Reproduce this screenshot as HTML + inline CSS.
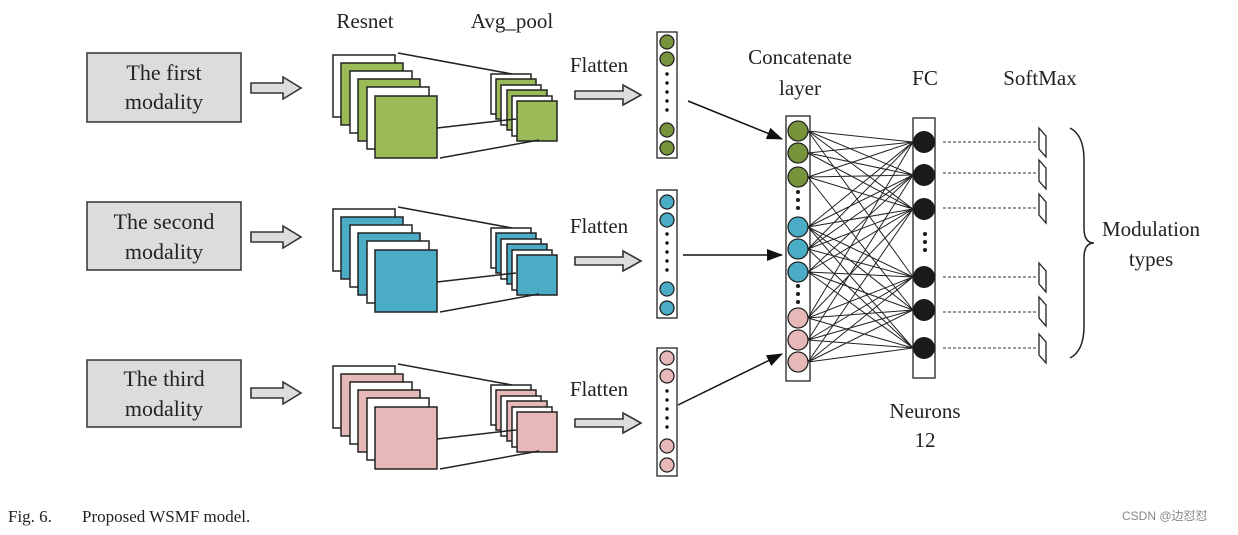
<!DOCTYPE html>
<html><head><meta charset="utf-8"><style>
body{margin:0;background:#fff;width:1238px;height:530px;overflow:hidden}
text{font-family:"Liberation Serif",serif;fill:#222}
</style></head><body>
<svg width="1238" height="530" xmlns="http://www.w3.org/2000/svg">
<defs>
<marker id="ah" markerWidth="16" markerHeight="12" refX="15" refY="6" orient="auto" markerUnits="userSpaceOnUse"><path d="M0,0 L16,6 L0,12 z" fill="#111"/></marker>
<g id="blk"><path d="M0,-5 H32 V-11 L50,0 L32,11 V5 H0 Z" fill="#ddd" stroke="#333" stroke-width="1.6"/></g>
<g id="flat"><path d="M0,-4 H48 V-10 L66,0 L48,10 V4 H0 Z" fill="#ddd" stroke="#333" stroke-width="1.6"/></g>
</defs>

<g stroke="#333" stroke-width="1.5" fill="#dcdcdc">
<rect x="87" y="53" width="154" height="69"/>
<rect x="87" y="202" width="154" height="68"/>
<rect x="87" y="360" width="154" height="67"/>
</g>
<g font-size="22" text-anchor="middle">
<text x="164" y="80">The first</text><text x="164" y="109">modality</text>
<text x="164" y="229">The second</text><text x="164" y="259">modality</text>
<text x="164" y="386">The third</text><text x="164" y="416">modality</text>
</g>
<use href="#blk" x="251" y="88"/><use href="#blk" x="251" y="237"/><use href="#blk" x="251" y="393"/>

<g stroke="#222" stroke-width="1.5">
<g transform="translate(0,0)">
<rect x="333" y="55" width="62" height="62" fill="#fff"/><rect x="341" y="63" width="62" height="62" fill="#9bbb59"/><rect x="350" y="71" width="62" height="62" fill="#fff"/><rect x="358" y="79" width="62" height="62" fill="#9bbb59"/><rect x="367" y="87" width="62" height="62" fill="#fff"/><rect x="375" y="96" width="62" height="62" fill="#9bbb59"/>
<rect x="491" y="74" width="40" height="40" fill="#fff"/><rect x="496" y="79" width="40" height="40" fill="#9bbb59"/><rect x="501" y="85" width="40" height="40" fill="#fff"/><rect x="507" y="90" width="40" height="40" fill="#9bbb59"/><rect x="512" y="96" width="40" height="40" fill="#fff"/><rect x="517" y="101" width="40" height="40" fill="#9bbb59"/>
<line x1="398" y1="53" x2="512" y2="74"/><line x1="437" y1="128" x2="516" y2="119"/><line x1="440" y1="158" x2="539" y2="140"/>
</g>
<g transform="translate(0,154)">
<rect x="333" y="55" width="62" height="62" fill="#fff"/><rect x="341" y="63" width="62" height="62" fill="#4bacc6"/><rect x="350" y="71" width="62" height="62" fill="#fff"/><rect x="358" y="79" width="62" height="62" fill="#4bacc6"/><rect x="367" y="87" width="62" height="62" fill="#fff"/><rect x="375" y="96" width="62" height="62" fill="#4bacc6"/>
<rect x="491" y="74" width="40" height="40" fill="#fff"/><rect x="496" y="79" width="40" height="40" fill="#4bacc6"/><rect x="501" y="85" width="40" height="40" fill="#fff"/><rect x="507" y="90" width="40" height="40" fill="#4bacc6"/><rect x="512" y="96" width="40" height="40" fill="#fff"/><rect x="517" y="101" width="40" height="40" fill="#4bacc6"/>
<line x1="398" y1="53" x2="512" y2="74"/><line x1="437" y1="128" x2="516" y2="119"/><line x1="440" y1="158" x2="539" y2="140"/>
</g>
<g transform="translate(0,311)">
<rect x="333" y="55" width="62" height="62" fill="#fff"/><rect x="341" y="63" width="62" height="62" fill="#e6b9b8"/><rect x="350" y="71" width="62" height="62" fill="#fff"/><rect x="358" y="79" width="62" height="62" fill="#e6b9b8"/><rect x="367" y="87" width="62" height="62" fill="#fff"/><rect x="375" y="96" width="62" height="62" fill="#e6b9b8"/>
<rect x="491" y="74" width="40" height="40" fill="#fff"/><rect x="496" y="79" width="40" height="40" fill="#e6b9b8"/><rect x="501" y="85" width="40" height="40" fill="#fff"/><rect x="507" y="90" width="40" height="40" fill="#e6b9b8"/><rect x="512" y="96" width="40" height="40" fill="#fff"/><rect x="517" y="101" width="40" height="40" fill="#e6b9b8"/>
<line x1="398" y1="53" x2="512" y2="74"/><line x1="437" y1="128" x2="516" y2="119"/><line x1="440" y1="158" x2="539" y2="140"/>
</g>
</g>
<g font-size="21" text-anchor="middle">
<text x="365" y="28">Resnet</text><text x="512" y="28">Avg_pool</text>
<text x="599" y="72">Flatten</text><text x="599" y="233">Flatten</text><text x="599" y="396">Flatten</text>
<text x="800" y="64">Concatenate</text><text x="800" y="95">layer</text>
<text x="925" y="85">FC</text><text x="1040" y="85">SoftMax</text>
<text x="925" y="418">Neurons</text><text x="925" y="447">12</text>
<text x="1151" y="236">Modulation</text><text x="1151" y="266">types</text>
</g>
<use href="#flat" x="575" y="95"/><use href="#flat" x="575" y="261"/><use href="#flat" x="575" y="423"/>

<g stroke="#222" stroke-width="1.3">
<rect x="657" y="32" width="20" height="126" fill="#fff"/>
<circle cx="667" cy="42" r="7" fill="#77933c"/><circle cx="667" cy="59" r="7" fill="#77933c"/><circle cx="667" cy="130" r="7" fill="#77933c"/><circle cx="667" cy="148" r="7" fill="#77933c"/>
<rect x="657" y="190" width="20" height="128" fill="#fff"/>
<circle cx="667" cy="202" r="7" fill="#4bacc6"/><circle cx="667" cy="220" r="7" fill="#4bacc6"/><circle cx="667" cy="289" r="7" fill="#4bacc6"/><circle cx="667" cy="308" r="7" fill="#4bacc6"/>
<rect x="657" y="348" width="20" height="128" fill="#fff"/>
<circle cx="667" cy="358" r="7" fill="#e6b9b8"/><circle cx="667" cy="376" r="7" fill="#e6b9b8"/><circle cx="667" cy="446" r="7" fill="#e6b9b8"/><circle cx="667" cy="465" r="7" fill="#e6b9b8"/>
</g>
<g fill="#111">
<circle cx="667" cy="74" r="1.7"/><circle cx="667" cy="83" r="1.7"/><circle cx="667" cy="92" r="1.7"/><circle cx="667" cy="101" r="1.7"/><circle cx="667" cy="110" r="1.7"/>
<circle cx="667" cy="234" r="1.7"/><circle cx="667" cy="243" r="1.7"/><circle cx="667" cy="252" r="1.7"/><circle cx="667" cy="261" r="1.7"/><circle cx="667" cy="270" r="1.7"/>
<circle cx="667" cy="391" r="1.7"/><circle cx="667" cy="400" r="1.7"/><circle cx="667" cy="409" r="1.7"/><circle cx="667" cy="418" r="1.7"/><circle cx="667" cy="427" r="1.7"/>
</g>
<g stroke="#111" stroke-width="1.5">
<line x1="688" y1="101" x2="782" y2="139" marker-end="url(#ah)"/>
<line x1="683" y1="255" x2="782" y2="255" marker-end="url(#ah)"/>
<line x1="678" y1="405" x2="782" y2="354" marker-end="url(#ah)"/>
</g>

<rect x="786" y="116" width="24" height="265" fill="#fff" stroke="#222" stroke-width="1.3"/>
<rect x="913" y="118" width="22" height="260" fill="#fff" stroke="#222" stroke-width="1.3"/>
<path stroke="#222" stroke-width="1" fill="none" d="
M808 131L913 142M808 131L913 175M808 131L913 209M808 131L913 277
M808 153L913 142M808 153L913 175M808 153L913 209
M808 177L913 142M808 177L913 175M808 177L913 209M808 177L913 310
M808 227L913 142M808 227L913 175M808 227L913 209M808 227L913 277M808 227L913 310M808 227L913 348
M808 249L913 142M808 249L913 175M808 249L913 209M808 249L913 277M808 249L913 348
M808 272L913 175M808 272L913 209M808 272L913 277M808 272L913 310M808 272L913 348
M808 318L913 142M808 318L913 209M808 318L913 277M808 318L913 310M808 318L913 348
M808 340L913 175M808 340L913 277M808 340L913 310M808 340L913 348
M808 362L913 209M808 362L913 277M808 362L913 310M808 362L913 348"/>
<g stroke="#222" stroke-width="1.3">
<circle cx="798" cy="131" r="10" fill="#77933c"/><circle cx="798" cy="153" r="10" fill="#77933c"/><circle cx="798" cy="177" r="10" fill="#77933c"/>
<circle cx="798" cy="227" r="10" fill="#4bacc6"/><circle cx="798" cy="249" r="10" fill="#4bacc6"/><circle cx="798" cy="272" r="10" fill="#4bacc6"/>
<circle cx="798" cy="318" r="10" fill="#e6b9b8"/><circle cx="798" cy="340" r="10" fill="#e6b9b8"/><circle cx="798" cy="362" r="10" fill="#e6b9b8"/>
</g>
<g fill="#1a1a1a">
<circle cx="924" cy="142" r="11"/><circle cx="924" cy="175" r="11"/><circle cx="924" cy="209" r="11"/>
<circle cx="924" cy="277" r="11"/><circle cx="924" cy="310" r="11"/><circle cx="924" cy="348" r="11"/>
<circle cx="798" cy="192" r="2"/><circle cx="798" cy="200" r="2"/><circle cx="798" cy="208" r="2"/>
<circle cx="798" cy="286" r="2"/><circle cx="798" cy="294" r="2"/><circle cx="798" cy="302" r="2"/>
<circle cx="925" cy="234" r="2"/><circle cx="925" cy="242" r="2"/><circle cx="925" cy="250" r="2"/>
</g>
<g stroke="#333" stroke-width="1" stroke-dasharray="3,2">
<line x1="943" y1="142" x2="1038" y2="142"/><line x1="943" y1="173" x2="1038" y2="173"/><line x1="943" y1="208" x2="1038" y2="208"/>
<line x1="943" y1="277" x2="1038" y2="277"/><line x1="943" y1="312" x2="1038" y2="312"/><line x1="943" y1="348" x2="1038" y2="348"/>
</g>
<g fill="#fff" stroke="#222" stroke-width="1.3">
<path d="M1039 128 L1046 136 V157 L1039 149 Z"/>
<path d="M1039 128 L1046 136 V157 L1039 149 Z" transform="translate(0,32)"/>
<path d="M1039 128 L1046 136 V157 L1039 149 Z" transform="translate(0,66)"/>
<path d="M1039 128 L1046 136 V157 L1039 149 Z" transform="translate(0,135)"/>
<path d="M1039 128 L1046 136 V157 L1039 149 Z" transform="translate(0,169)"/>
<path d="M1039 128 L1046 136 V157 L1039 149 Z" transform="translate(0,206)"/>
</g>
<path d="M1070 128 Q1084 135 1084 160 V228 Q1084 243 1094 243 Q1084 243 1084 258 V326 Q1084 351 1070 358" fill="none" stroke="#222" stroke-width="1.5"/>

<text x="8" y="522" font-size="17">Fig. 6.</text>
<text x="82" y="522" font-size="17">Proposed WSMF model.</text>
<text x="1122" y="520" font-size="12" style="font-family:'Liberation Sans','Noto Sans CJK SC',sans-serif;fill:#888">CSDN @边怼怼</text>
</svg>
</body></html>
